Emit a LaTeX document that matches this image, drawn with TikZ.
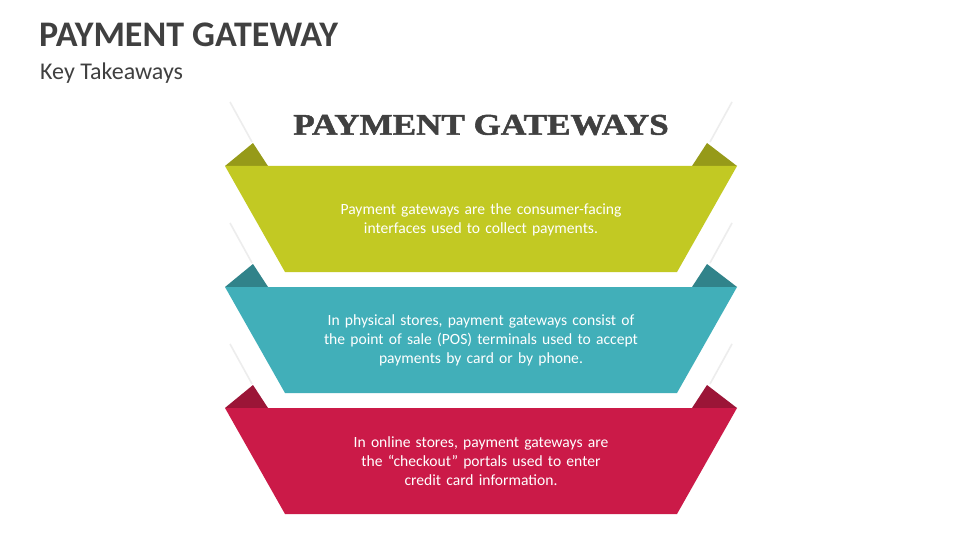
\documentclass[tikz,border=0pt]{standalone}
\usepackage{fontspec}
\setmainfont{Carlito}
\newfontfamily\bannerfont[BoldFeatures={FakeBold=1.6}]{Liberation Serif}
\usetikzlibrary{positioning}

\definecolor{hdgray}{HTML}{404040}
\definecolor{limeband}{HTML}{C2C923}
\definecolor{limefold}{HTML}{969A19}
\definecolor{tealband}{HTML}{41AFB9}
\definecolor{tealfold}{HTML}{31838A}
\definecolor{redband}{HTML}{CB1A48}
\definecolor{redfold}{HTML}{9B1537}

\begin{document}
\begin{tikzpicture}[x=1pt, y=-1pt,
  panel/.style={fill=white},
  edge/.style={draw=black!7, line width=1.6pt},
  bandtext/.style={text=white, align=center, font=\fontsize{15.6}{19}\selectfont, text width=360pt, inner sep=0pt},
  head/.style={anchor=base west, inner sep=0pt, text=hdgray}]
\useasboundingbox (0,0) rectangle (960,540);

% headings
\node[head, font=\fontsize{36}{36}\selectfont\bfseries] (ttl) at (39,47) {PAYMENT GATEWAY};
\node[head, font=\fontsize{24}{24}\selectfont] (sub) at (40,80) {Key Takeaways};

% back panels
\fill[panel] (226,100) -- (736,100) -- (694,166) -- (268,166) -- cycle;
\fill[panel] (226,221) -- (736,221) -- (694,287) -- (268,287) -- cycle;
\fill[panel] (226,342) -- (736,342) -- (694,408) -- (268,408) -- cycle;
\draw[edge] (230,102) -- (252,142);
\draw[edge] (732,102) -- (710,142);
\draw[edge] (230,223) -- (252,263);
\draw[edge] (732,223) -- (710,263);
\draw[edge] (230,344) -- (252,384);
\draw[edge] (732,344) -- (710,384);

% folds
\fill[limefold] (225,166) -- (253,143) -- (268,166) -- cycle;
\fill[limefold] (737,166) -- (707,143) -- (692,166) -- cycle;
\fill[tealfold] (225,287) -- (253,264) -- (268,287) -- cycle;
\fill[tealfold] (737,287) -- (707,264) -- (692,287) -- cycle;
\fill[redfold] (225,408) -- (253,385) -- (268,408) -- cycle;
\fill[redfold] (737,408) -- (707,385) -- (692,408) -- cycle;

% bands
\fill[limeband] (225,166) -- (737,166) -- (677,272) -- (285,272) -- cycle;
\fill[tealband] (225,287) -- (737,287) -- (677,393) -- (285,393) -- cycle;
\fill[redband] (225,408) -- (737,408) -- (677,514) -- (285,514) -- cycle;

% banner title
\node[text=hdgray, inner sep=0pt, xscale=1.17, font=\bannerfont\fontsize{30}{30}\selectfont\bfseries] (banner) at (481,125) {PAYMENT GATEWAYS};

% band texts
\node[bandtext] (tk1) at (481,220) {Payment gateways are the consumer-facing\\interfaces used to collect payments.};
\node[bandtext] (tk2) at (481,340) {In physical stores, payment gateways consist of\\the point of sale (POS) terminals used to accept\\payments by card or by phone.};
\node[bandtext] (tk3) at (481,461) {In online stores, payment gateways are\\the “checkout” portals used to enter\\credit card information.};
\end{tikzpicture}
\end{document}
